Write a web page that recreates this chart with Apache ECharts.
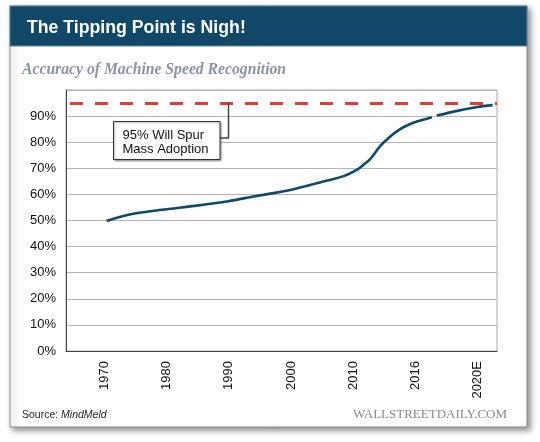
<!DOCTYPE html>
<html>
<head>
<meta charset="utf-8">
<script src="https://cdn.jsdelivr.net/npm/echarts@6/dist/echarts.min.js"></script>
<style>
html,body{margin:0;padding:0;background:#fff;}
#main{width:540px;height:442px;}
</style>
</head>
<body>
<div id="main"></div>
<script>
// ---- data ----
const categories = ['1970', '1980', '1990', '2000', '2010', '2016', '2020E'];
const categoryPositions = [0, 1, 2, 3, 4, 5, 6];
// line samples: position along the category scale, accuracy in %
const linePositions = [0.03, 0.38, 0.92, 1.45, 1.99, 2.42, 2.99, 3.52, 3.85, 4.06, 4.16, 4.28, 4.44, 4.60, 4.76, 4.87, 5.03, 5.27, null, 5.35, 5.68, 6.00, 6.25];
const lineValues    = [49.8, 52.2, 54.1, 55.6, 57.4, 59.3, 61.7, 64.9, 67.0, 69.4, 71.2, 73.6, 78.6, 82.2, 85.0, 86.4, 87.9, 89.6, null, 90.2, 92.0, 93.5, 94.2];
const yTicks = [0, 10, 20, 30, 40, 50, 60, 70, 80, 90];
const targetValue = 95;
const chartTitle = 'The Tipping Point is Nigh!';
const chartSubtitle = 'Accuracy of Machine Speed Recognition';
const annotationLines = ['95% Will Spur', 'Mass Adoption'];
const sourceName = 'MindMeld';
const brand = 'WALLSTREETDAILY.COM';

const seriesData = linePositions.map((p, i) => (p === null ? [null, null] : [p, lineValues[i]]));

const chart = echarts.init(document.getElementById('main'), null, { renderer: 'canvas' });

const option = {
  animation: false,
  backgroundColor: '#ffffff',
  title: [
    {
      text: chartTitle, left: 27, top: 19, padding: 0,
      textStyle: { color: '#ffffff', fontSize: 17.7, fontWeight: 'bold', fontFamily: 'Liberation Sans' }
    },
    {
      text: chartSubtitle, left: 22, top: 62, padding: 0,
      textStyle: { color: '#8a93a8', fontSize: 15.7, fontWeight: 'bold', fontStyle: 'italic', fontFamily: 'Liberation Serif' }
    },
    {
      text: 'Source: {i|' + sourceName + '}', left: 22, top: 410, padding: 0,
      textStyle: {
        color: '#222', fontSize: 10.5, fontWeight: 'normal', fontFamily: 'Liberation Sans',
        rich: { i: { fontStyle: 'italic', fontSize: 10.5, color: '#222', fontFamily: 'Liberation Sans' } }
      }
    },
    {
      text: brand, right: 33, top: 408, padding: 0,
      textStyle: { color: '#8a8a8a', fontSize: 13, fontWeight: 'normal', fontFamily: 'Liberation Serif' }
    }
  ],
  graphic: [
    {
      type: 'rect', z: -20, silent: true,
      shape: { x: 10, y: 6, width: 517, height: 421 },
      style: { fill: '#ffffff', stroke: '#8c8c8c', lineWidth: 1, shadowBlur: 6, shadowOffsetX: 3, shadowOffsetY: 3, shadowColor: 'rgba(0,0,0,0.45)' }
    },
    {
      type: 'rect', z: -19, silent: true,
      shape: { x: 10, y: 6, width: 517, height: 40 },
      style: { fill: '#114868', stroke: '#5f87a0', lineWidth: 1 }
    },
    {
      type: 'polyline', z: 50, silent: true,
      shape: { points: [[220, 138], [228.5, 138], [228.5, 103]] },
      style: { stroke: '#444', lineWidth: 1.5, fill: null }
    },
    {
      type: 'rect', z: 51, silent: true,
      shape: { x: 113.5, y: 121.5, width: 106.5, height: 38 },
      style: { fill: '#ffffff', stroke: '#333', lineWidth: 1, shadowBlur: 2, shadowOffsetX: 1, shadowOffsetY: 1, shadowColor: 'rgba(0,0,0,0.35)' }
    },
    {
      type: 'text', z: 52, silent: true, x: 122.5, y: 129,
      style: { text: annotationLines.join('\n'), fill: '#111', fontSize: 13, lineHeight: 13.5, fontFamily: 'Liberation Sans' }
    }
  ],
  grid: {
    left: 66, right: 43, top: 90, bottom: 91,
    show: true, borderColor: '#a8a8a8', borderWidth: 1, backgroundColor: 'transparent'
  },
  xAxis: {
    type: 'value', min: -0.625, max: 6.32,
    axisLine: { show: true, onZero: false, lineStyle: { color: '#444', width: 1 } },
    axisTick: { show: false },
    splitLine: { show: false },
    axisLabel: {
      customValues: categoryPositions,
      formatter: (v) => categories[Math.round(v)],
      rotate: 90, margin: 10, fontSize: 13, color: '#111', fontFamily: 'Liberation Sans'
    }
  },
  yAxis: {
    type: 'value', min: 0, max: 100, interval: 10,
    axisLine: { show: true, onZero: false, lineStyle: { color: '#444', width: 1 } },
    axisTick: { show: false },
    splitLine: { show: true, lineStyle: { color: '#b5b5b5', width: 1 } },
    axisLabel: {
      formatter: (v) => (yTicks.indexOf(v) >= 0 ? v + '%' : ''),
      margin: 10, fontSize: 13, color: '#111', fontFamily: 'Liberation Sans'
    }
  },
  series: [
    {
      type: 'line', data: seriesData, smooth: 0.3, connectNulls: false,
      showSymbol: false, symbol: 'none',
      lineStyle: { color: '#11496b', width: 2.6 },
      z: 5,
      markLine: {
        silent: true, symbol: ['none', 'none'],
        label: { show: false },
        lineStyle: { color: '#df3d35', width: 3, type: [13, 12], dashOffset: -4 },
        data: [{ yAxis: targetValue }]
      }
    }
  ]
};

chart.setOption(option);
</script>
</body>
</html>
